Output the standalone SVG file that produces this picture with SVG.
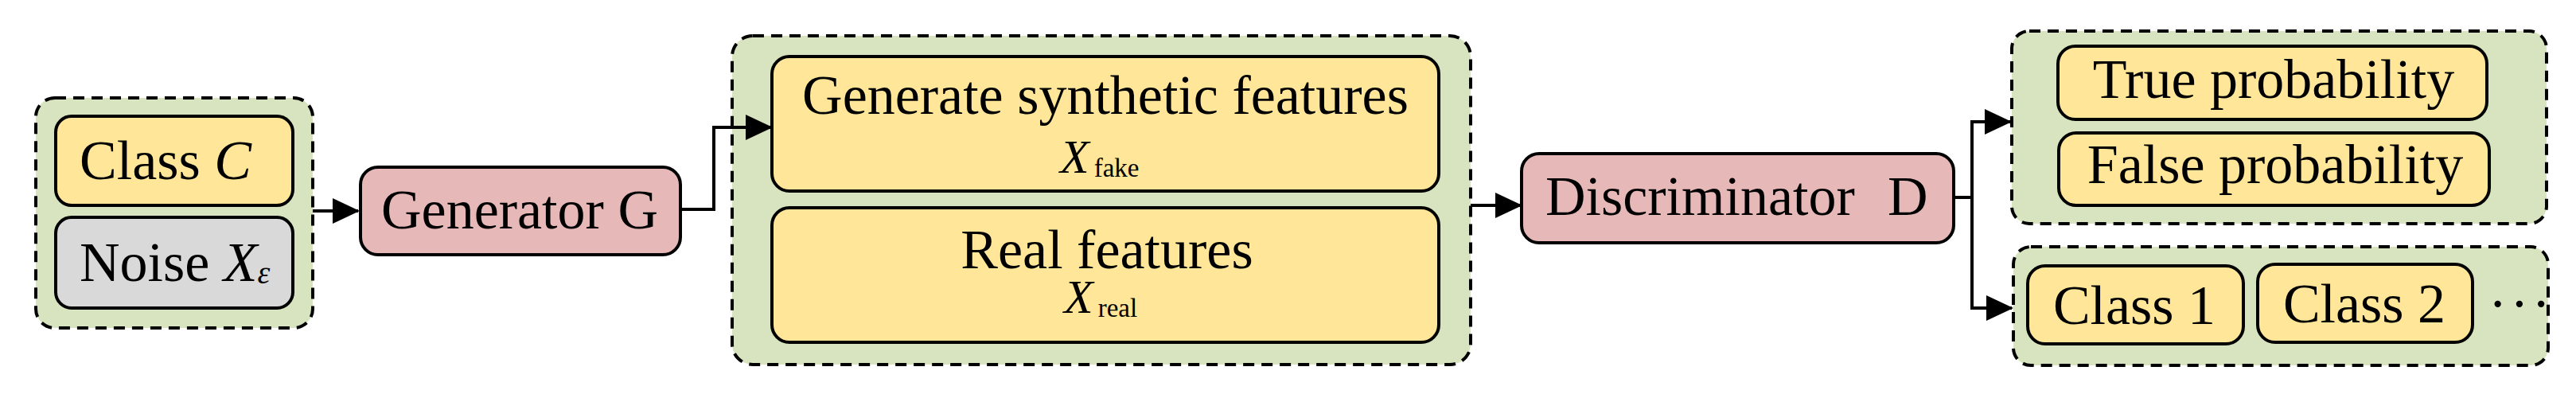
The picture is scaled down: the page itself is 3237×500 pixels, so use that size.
<svg xmlns="http://www.w3.org/2000/svg" width="3237" height="500" viewBox="0 0 3237 500">
<style>
.grp{fill:#D7E4BF;stroke:#000;stroke-width:4;stroke-dasharray:14 9}
.yel{fill:#FFE699;stroke:#000;stroke-width:4}
.gry{fill:#D9D9D9;stroke:#000;stroke-width:4}
.red{fill:#E6B9B8;stroke:#000;stroke-width:4}
.t{font-family:"Liberation Serif","Times New Roman",serif;font-size:70px;fill:#000}
.c{text-anchor:middle}
.it{font-style:italic}
.ln{fill:none;stroke:#000;stroke-width:4}
</style>
<defs>
<marker id="ah" markerUnits="userSpaceOnUse" markerWidth="34" markerHeight="32" refX="32" refY="16" orient="auto">
<path d="M0,0 L34,16 L0,32 Z" fill="#000"/>
</marker>
</defs>

<g id="input">
<rect class="grp" x="45" y="123" width="348" height="289" rx="24"/>
<g id="classC">
<rect class="yel" x="70" y="146" width="298" height="112" rx="20"/>
<text class="t" x="100" y="225">Class <tspan class="it">C</tspan></text>
</g>
<g id="noise">
<rect class="gry" x="70" y="273" width="298" height="114" rx="20"/>
<text class="t" x="100" y="353">Noise <tspan class="it">X</tspan><tspan class="it" font-size="40" dy="3">ε</tspan></text>
</g>
</g>

<g id="generator">
<rect class="red" x="453" y="210" width="402" height="110" rx="22"/>
<text class="t c" x="653" y="287" font-size="71">Generator G</text>
</g>

<g id="features">
<rect class="grp" x="920" y="45" width="928" height="413" rx="26"/>
<g id="synthetic">
<rect class="yel" x="970" y="71" width="838" height="169" rx="22"/>
<text class="t c" x="1389" y="143" font-size="71">Generate synthetic features</text>
<text class="t" x="1332" y="217"><tspan class="it" font-size="60">X</tspan><tspan font-size="33" dx="6" dy="5">fake</tspan></text>
</g>
<g id="real">
<rect class="yel" x="970" y="261" width="838" height="169" rx="22"/>
<text class="t c" x="1391" y="337" font-size="71">Real features</text>
<text class="t" x="1337" y="393"><tspan class="it" font-size="60">X</tspan><tspan font-size="33" dx="6" dy="5">real</tspan></text>
</g>
</g>

<g id="discriminator">
<rect class="red" x="1912" y="193" width="543" height="112" rx="22"/>
<text class="t" x="1942" y="270">Discriminator<tspan x="2372">D</tspan></text>
</g>

<g id="probability">
<rect class="grp" x="2528" y="39" width="672" height="242" rx="22"/>
<g id="trueProb">
<rect class="yel" x="2586" y="58" width="539" height="92" rx="22"/>
<text class="t c" x="2857" y="123">True probability</text>
</g>
<g id="falseProb">
<rect class="yel" x="2587" y="167" width="541" height="91" rx="22"/>
<text class="t c" x="2859" y="230">False probability</text>
</g>
</g>

<g id="classes">
<rect class="grp" x="2530" y="310" width="672" height="149" rx="22"/>
<g id="class1">
<rect class="yel" x="2548" y="334" width="271" height="98" rx="22"/>
<text class="t c" x="2682" y="407">Class 1</text>
</g>
<g id="class2">
<rect class="yel" x="2837" y="332" width="270" height="98" rx="22"/>
<text class="t c" x="2971" y="405">Class 2</text>
</g>
<text class="t" x="3127" y="405" letter-spacing="4">···</text>
</g>

<g id="connectors">
<path class="ln" d="M393,265 H450" marker-end="url(#ah)"/>
<path class="ln" d="M855,263 H897 V160 H969" marker-end="url(#ah)"/>
<path class="ln" d="M1848,258 H1911" marker-end="url(#ah)"/>
<path class="ln" d="M2455,248 H2478"/>
<path class="ln" d="M2478,387 V153 H2526" marker-end="url(#ah)"/>
<path class="ln" d="M2478,385 V387 H2528" marker-end="url(#ah)"/>
</g>
</svg>
